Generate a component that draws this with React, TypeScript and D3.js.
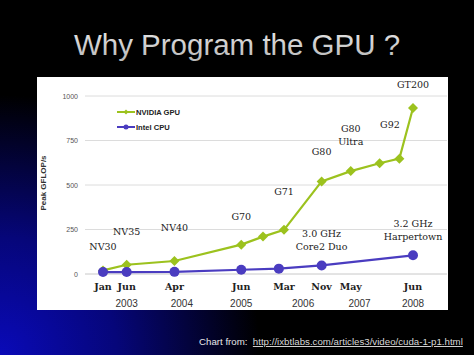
import React from "react";
import * as d3 from "d3";

const gpuDates = ["2003-01-15", "2003-06-15", "2004-04-15", "2005-06-15", "2005-11-01", "2006-03-15", "2006-11-10", "2007-05-15", "2007-11-15", "2008-03-20", "2008-06-15"];
const gpuValues = [20, 52, 73, 165, 210, 248, 520, 578, 622, 648, 933];
const cpuDates = ["2003-01-15", "2003-06-15", "2004-04-15", "2005-06-15", "2006-02-10", "2006-11-10", "2008-06-15"];
const cpuValues = [11, 11, 12, 24, 30, 48, 105];
const monthLabels = ["Jan", "Jun", "Apr", "Jun", "Mar", "Nov", "May", "Jun"];
const monthDates = ["2003-01-15", "2003-06-15", "2004-04-15", "2005-06-15", "2006-03-15", "2006-11-10", "2007-05-15", "2008-06-15"];
const yearLabels = ["2003", "2004", "2005", "2006", "2007", "2008"];
const yearDates = ["2003-06-15", "2004-06-01", "2005-06-15", "2006-07-15", "2007-07-10", "2008-06-15"];
const yTicks = [0, 250, 500, 750, 1000];
const gpuNames = [
  { d: "2003-01-15", lines: ["NV30"], y: 250 },
  { d: "2003-06-15", lines: ["NV35"], y: 235 },
  { d: "2004-04-15", lines: ["NV40"], y: 231 },
  { d: "2005-06-15", lines: ["G70"], y: 220 },
  { d: "2006-03-15", lines: ["G71"], y: 195 },
  { d: "2006-11-10", lines: ["G80"], y: 155 },
  { d: "2007-05-15", lines: ["G80", "Ultra"], y: 132 },
  { d: "2008-01-20", lines: ["G92"], y: 128 },
  { d: "2008-06-15", lines: ["GT200"], y: 88 },
  { d: "2006-11-10", lines: ["3.0 GHz", "Core2 Duo"], y: 237 },
  { d: "2008-06-15", lines: ["3.2 GHz", "Harpertown"], y: 227 },
];

const GREEN = "#9cc21e";
const BLUE = "#4a3cc0";

export default function App() {
  const p = d3.timeParse("%Y-%m-%d");
  const x = d3.scaleTime().domain([p("2003-01-15")!, p("2008-06-15")!]).range([103, 413]);
  const y = d3.scaleLinear().domain([0, 1000]).range([274, 96]);
  const gpu = gpuDates.map((d, i) => ({ x: x(p(d)!), y: y(gpuValues[i]) }));
  const cpu = cpuDates.map((d, i) => ({ x: x(p(d)!), y: y(cpuValues[i]) }));
  const line = d3.line<{ x: number; y: number }>().x((d) => d.x).y((d) => d.y);
  const serif = "'DejaVu Serif', 'Liberation Serif', serif";
  const sans = "'Liberation Sans', Arial, sans-serif";
  return (
    <svg width={474} height={355} style={{ position: "absolute", left: 0, top: 0, display: "block" }}>
      <defs>
        <radialGradient id="bg" cx="0" cy="355" r="260" gradientUnits="userSpaceOnUse">
          <stop offset="0" stopColor="#0a0ab8" />
          <stop offset="0.45" stopColor="#06067a" />
          <stop offset="1" stopColor="#000000" />
        </radialGradient>
        <linearGradient id="tg" x1="0" y1="0" x2="0" y2="1">
          <stop offset="0" stopColor="#e8e8e8" />
          <stop offset="1" stopColor="#b8b8b8" />
        </linearGradient>
      </defs>
      <rect width={474} height={355} fill="#000" />
      <rect width={474} height={355} fill="url(#bg)" />
      <text x={237} y={55} textAnchor="middle" fontFamily={sans} fontSize={29.5} fill="url(#tg)">
        Why Program the GPU ?
      </text>
      <rect x={37} y={77} width={411} height={233} fill="#fff" />
      {yTicks.map((t) => (
        <g key={t}>
          <line x1={85} x2={447} y1={y(t)} y2={y(t)} stroke={t === 0 ? "#c8c8c8" : "#dcdcdc"} strokeWidth={1} />
          <text x={78} y={y(t) + 2.5} textAnchor="end" fontFamily={sans} fontSize={7} fill="#555">
            {t}
          </text>
        </g>
      ))}
      <text transform="translate(46,183) rotate(-90)" textAnchor="middle" fontFamily={sans} fontWeight="bold" fontSize={8} fill="#333">
        Peak GFLOP/s
      </text>
      <line x1={117} x2={135} y1={112} y2={112} stroke={GREEN} strokeWidth={2} />
      <path d="M126,109.5 L128.5,112 L126,114.5 L123.5,112Z" fill={GREEN} />
      <text x={136} y={114.5} fontFamily={sans} fontWeight="bold" fontSize={7.6} fill="#222">NVIDIA GPU</text>
      <line x1={117} x2={135} y1={127} y2={127} stroke={BLUE} strokeWidth={2} />
      <circle cx={126} cy={127} r={2.5} fill={BLUE} />
      <text x={136} y={129.5} fontFamily={sans} fontWeight="bold" fontSize={7.6} fill="#222">Intel CPU</text>
      <path d={line(gpu)!} fill="none" stroke={GREEN} strokeWidth={2.2} />
      {gpu.map((d, i) => (
        <path key={i} d={`M${d.x},${d.y - 5} L${d.x + 5},${d.y} L${d.x},${d.y + 5} L${d.x - 5},${d.y}Z`} fill={GREEN} />
      ))}
      <path d={line(cpu)!} fill="none" stroke={BLUE} strokeWidth={2.2} />
      {cpu.map((d, i) => (
        <circle key={i} cx={d.x} cy={d.y} r={5} fill={BLUE} />
      ))}
      {gpuNames.map((n, i) => (
        <text key={i} x={x(p(n.d)!)} y={n.y} textAnchor="middle" fontFamily={serif} fontSize={9.5} fill="#222">
          {n.lines.map((l, j) => (
            <tspan key={j} x={x(p(n.d)!)} dy={j === 0 ? 0 : 12.5}>
              {l}
            </tspan>
          ))}
        </text>
      ))}
      {monthLabels.map((m, i) => (
        <text key={i} x={x(p(monthDates[i])!)} y={290} textAnchor="middle" fontFamily={serif} fontWeight="bold" fontSize={9.5} fill="#222">
          {m}
        </text>
      ))}
      {yearLabels.map((m, i) => (
        <text key={i} x={x(p(yearDates[i])!)} y={306.5} textAnchor="middle" fontFamily={sans} fontSize={10} fill="#333">
          {m}
        </text>
      ))}
      <text x={199} y={345} fontFamily={sans} fontSize={9.7} fill="#e8e8e8">
        Chart from:{"\u00a0\u00a0"}
        <tspan textDecoration="underline" fill="#d8d8d8">http://ixbtlabs.com/articles3/video/cuda-1-p1.html</tspan>
      </text>
    </svg>
  );
}
